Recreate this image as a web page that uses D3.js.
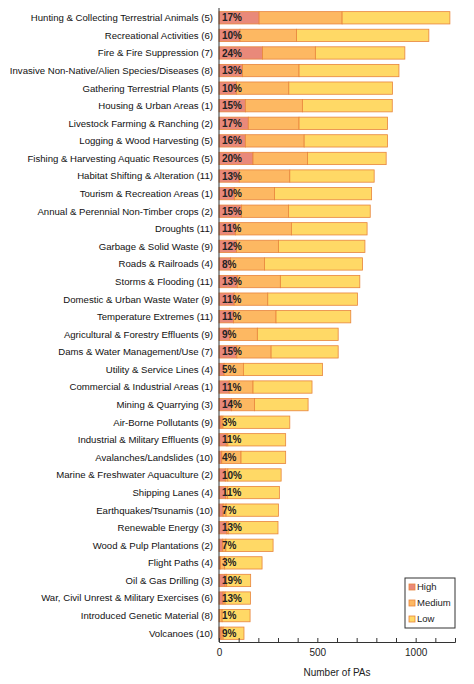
<!DOCTYPE html>
<html><head><meta charset="utf-8">
<script src="https://cdn.jsdelivr.net/npm/d3@7"></script>
<style>body{margin:0;background:#fff}text{font-family:"Liberation Sans",Arial,sans-serif}</style>
</head><body><svg id="chart" width="474" height="684"></svg>
<script>
const categories = ["Hunting & Collecting Terrestrial Animals (5)","Recreational Activities (6)","Fire & Fire Suppression (7)","Invasive Non-Native/Alien Species/Diseases (8)","Gathering Terrestrial Plants (5)","Housing & Urban Areas (1)","Livestock Farming & Ranching (2)","Logging & Wood Harvesting (5)","Fishing & Harvesting Aquatic Resources (5)","Habitat Shifting & Alteration (11)","Tourism & Recreation Areas (1)","Annual & Perennial Non-Timber crops (2)","Droughts (11)","Garbage & Solid Waste (9)","Roads & Railroads (4)","Storms & Flooding (11)","Domestic & Urban Waste Water (9)","Temperature Extremes (11)","Agricultural & Forestry Effluents (9)","Dams & Water Management/Use (7)","Utility & Service Lines (4)","Commercial & Industrial Areas (1)","Mining & Quarrying (3)","Air-Borne Pollutants (9)","Industrial & Military Effluents (9)","Avalanches/Landslides (10)","Marine & Freshwater Aquaculture (2)","Shipping Lanes (4)","Earthquakes/Tsunamis (10)","Renewable Energy (3)","Wood & Pulp Plantations (2)","Flight Paths (4)","Oil & Gas Drilling (3)","War, Civil Unrest & Military Exercises (6)","Introduced Genetic Material (8)","Volcanoes (10)"];
const high = [204,107,221,119,88,134,149,134,173,103,78,115,83,89,58,93,77,74,55,91,26,52,63,11,37,14,32,34,21,39,19,7,31,21,2,11];
const medium = [422,287,269,288,267,290,258,299,277,257,204,238,285,213,173,219,171,216,140,174,98,121,117,9,8,98,13,10,15,8,16,22,8,10,14,10];
const low = [548,673,455,508,527,457,450,424,400,429,494,416,385,440,499,404,456,380,411,341,402,300,273,340,294,227,271,263,266,253,240,190,122,129,142,106];
const pctLabels = ["17%","10%","24%","13%","10%","15%","17%","16%","20%","13%","10%","15%","11%","12%","8%","13%","11%","11%","9%","15%","5%","11%","14%","3%","11%","4%","10%","11%","7%","13%","7%","3%","19%","13%","1%","9%"];
const xTicks = [0,500,1000];
const levels = ["High","Medium","Low"];
const colors = {High:"#E9897A",Medium:"#FDB862",Low:"#FFD966"};

const svg = d3.select("#chart");
const x = d3.scaleLinear().domain([0,1200]).range([219,455]);
const y = d3.scaleBand().domain(categories).range([9,642]).paddingInner(0.3).paddingOuter(0.15);

const rows = categories.map((c,i)=>({c,High:high[i],Medium:medium[i],Low:low[i]}));
const stacked = d3.stack().keys(levels)(rows);

svg.append("g").selectAll("g").data(stacked).join("g")
  .attr("fill",d=>colors[d.key])
  .selectAll("rect").data(d=>d).join("rect")
  .attr("x",d=>x(d[0])).attr("y",d=>y(d.data.c))
  .attr("width",d=>x(d[1])-x(d[0])).attr("height",y.bandwidth())
  .attr("stroke","#E8843C").attr("stroke-width",0.8);

svg.append("g").selectAll("text").data(pctLabels).join("text")
  .attr("x",x(0)+3).attr("y",(d,i)=>y(categories[i])+y.bandwidth()/2).attr("dy","0.36em")
  .attr("font-size",10).attr("font-weight","bold").attr("fill","#222").text(d=>d);

svg.append("g").selectAll("text").data(categories).join("text")
  .attr("x",213).attr("y",d=>y(d)+y.bandwidth()/2).attr("dy","0.36em")
  .attr("text-anchor","end").attr("font-size",9.6).attr("fill","#111").text(d=>d);

// axes
const xAxis = d3.axisBottom(x).tickValues(d3.range(0,1201,100)).tickSize(-4)
  .tickFormat(d=>xTicks.includes(d)?d:"");
const gx = svg.append("g").attr("transform","translate(0,642)").call(xAxis);
gx.select(".domain").attr("stroke","#333");
gx.selectAll(".tick line").attr("stroke","#333");
gx.selectAll(".tick text").attr("font-size",10).attr("fill","#222").attr("dy","1.1em");
svg.append("line").attr("x1",x(0)).attr("x2",x(0)).attr("y1",8).attr("y2",642).attr("stroke","#333");
svg.append("text").attr("x",x(600)).attr("y",676).attr("text-anchor","middle")
  .attr("font-size",10).attr("fill","#222").text("Number of PAs");

// legend
const lg = svg.append("g").attr("transform","translate(405,578)");
lg.append("rect").attr("width",50).attr("height",50).attr("fill","#fff").attr("stroke","#333");
levels.forEach((k,i)=>{
  lg.append("rect").attr("x",4).attr("y",6+i*16).attr("width",6).attr("height",6)
    .attr("fill",colors[k]).attr("stroke","#E8843C").attr("stroke-width",0.8);
  lg.append("text").attr("x",12).attr("y",9+i*16).attr("dy","0.36em").attr("font-size",9.5).attr("fill","#222").text(k);
});
</script></body></html>
